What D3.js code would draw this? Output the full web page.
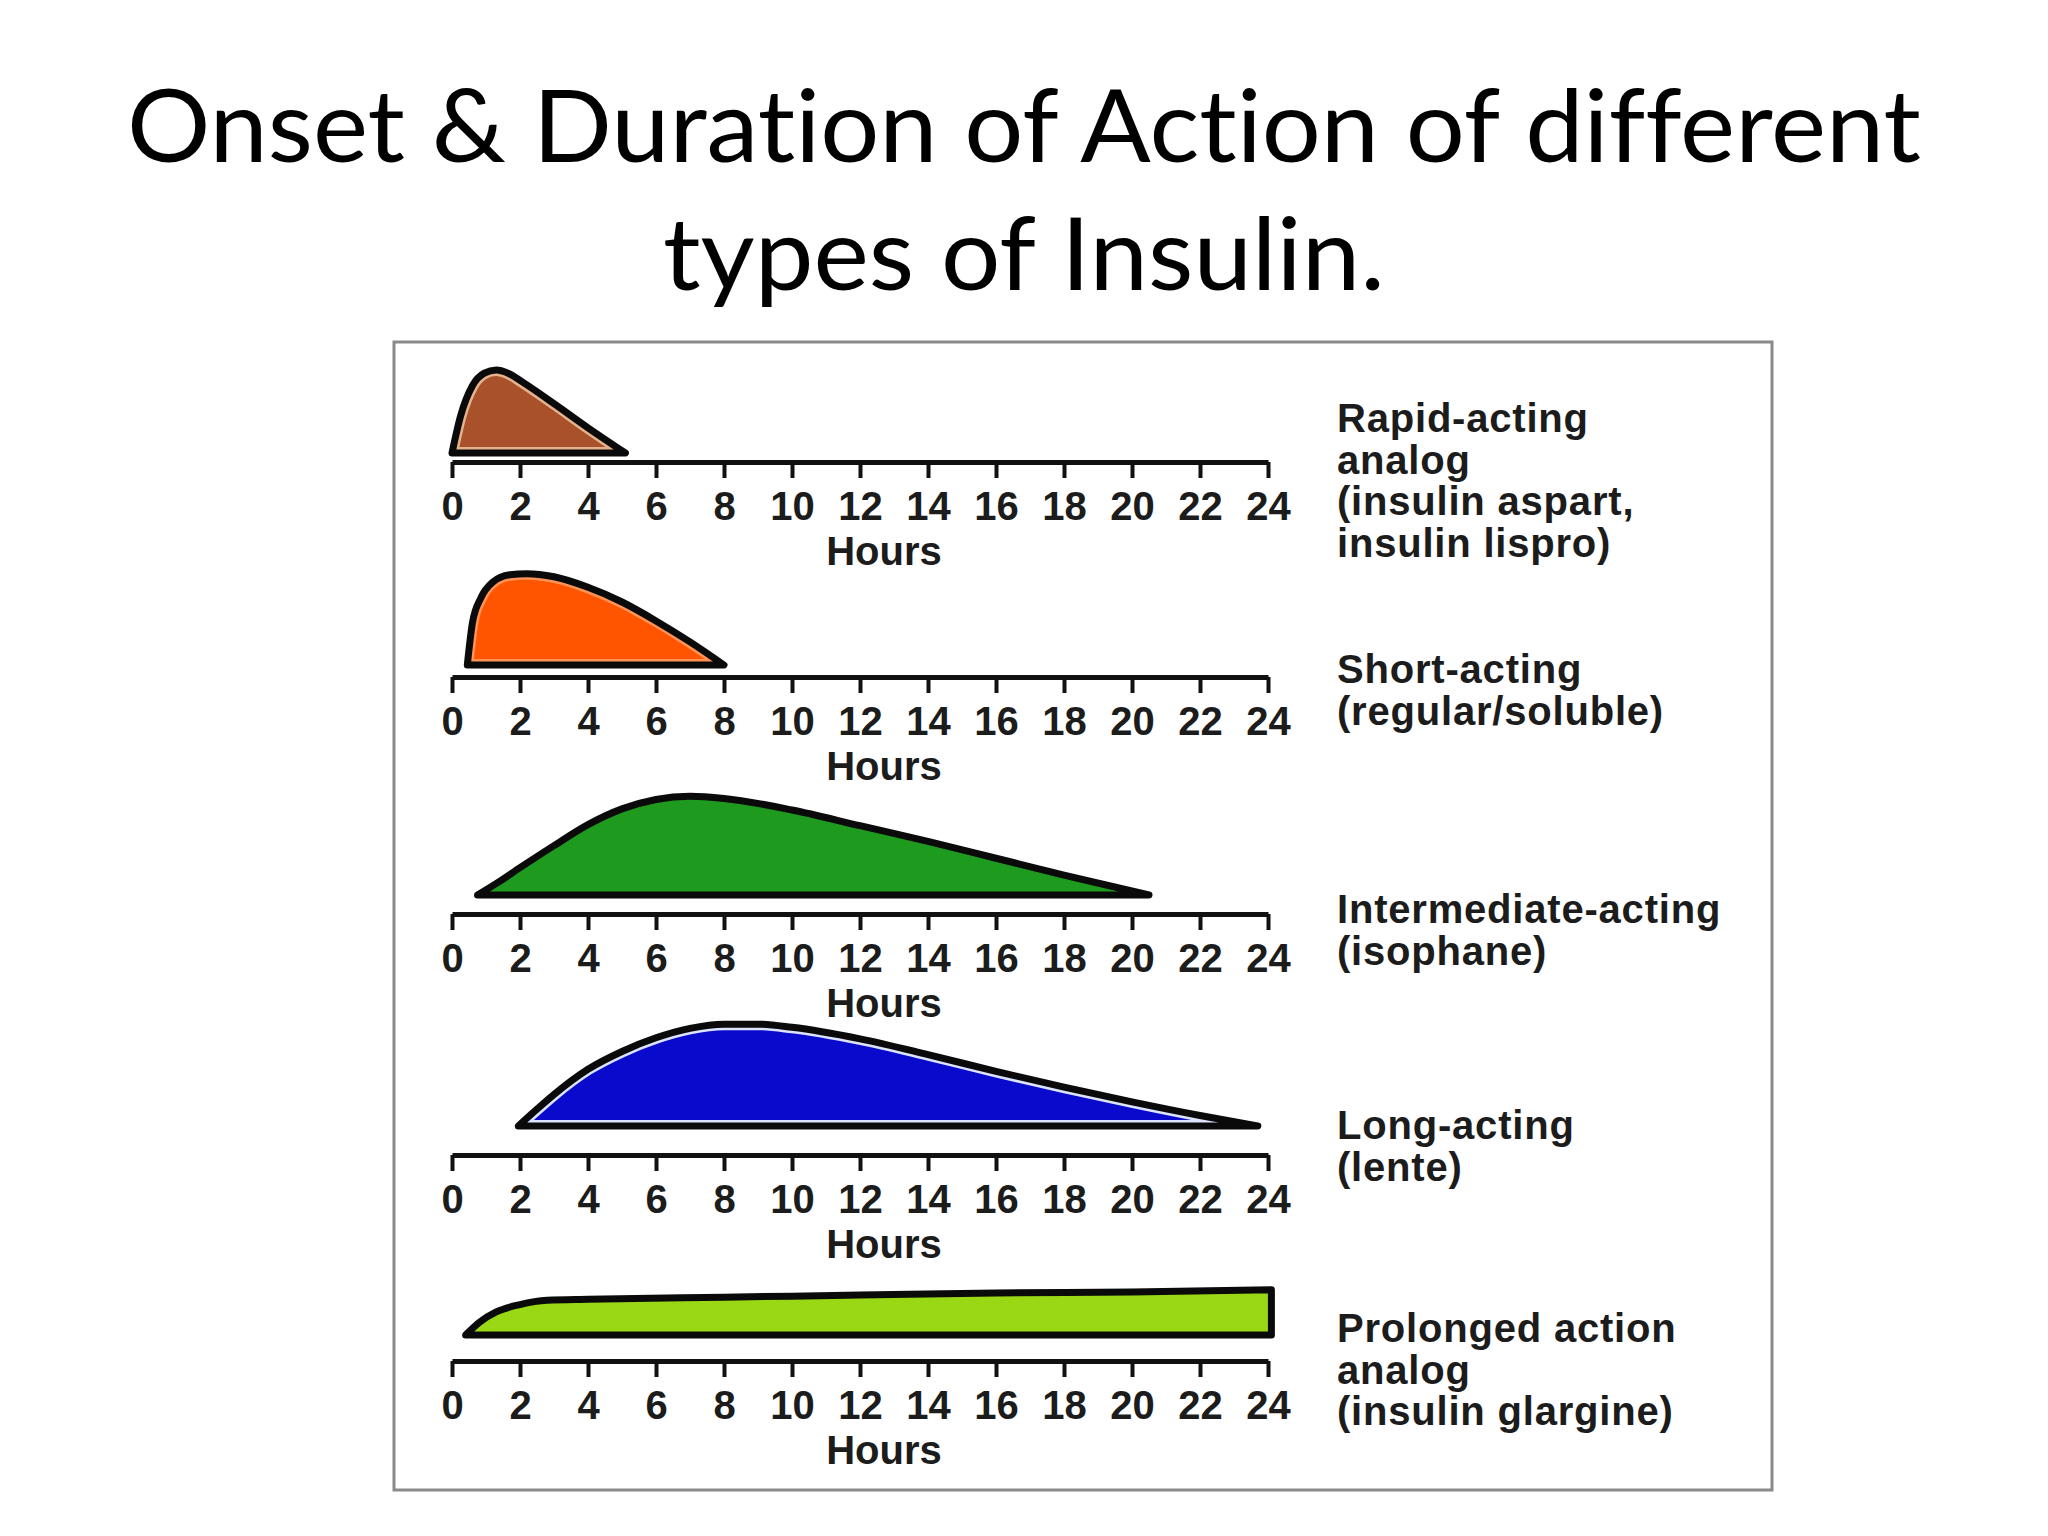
<!DOCTYPE html>
<html>
<head>
<meta charset="utf-8">
<script src="https://cdn.jsdelivr.net/npm/d3@7"></script>
<style>
  body { margin: 0; background: #fff; }
  .lbl { font-family: "Liberation Sans", Arial, sans-serif; font-weight: bold; fill: #1c1c1c; }
</style>
</head>
<body>
<svg id="chart" width="2048" height="1536"></svg>
<script>
// values: [hours, relative action]
const hourTicks = [0, 2, 4, 6, 8, 10, 12, 14, 16, 18, 20, 22, 24];

const rapidActing = [[0, 0], [0.25, 35], [0.6, 64], [0.95, 76], [1.3, 79], [1.65, 76], [2.1, 67], [3, 47], [4, 24], [5.1, 0]];
const shortActing = [[0.45, 0], [0.6, 40], [0.85, 64], [1.2, 79], [1.7, 86], [2.2, 87], [3, 84], [4, 74], [5, 60], [6, 42], [7, 22], [8, 0]];
const intermediateActing = [[0.75, 0], [1.4, 13], [2, 26], [3, 47], [4, 67], [5, 82], [6, 91], [7, 94], [8, 92], [10, 81], [12, 66], [14, 51], [16, 35], [18, 19], [20.5, 0]];
const longActing = [[1.95, 0], [2.5, 16], [3, 30], [4, 54], [5, 71], [6, 84], [7, 93], [8, 97], [9, 97], [10, 94], [12, 83], [14, 68], [16, 52], [18, 37], [20, 23], [22, 10], [23.7, 0]];
const prolongedAction = [[0.4, 0], [0.8, 12], [1.3, 22], [2, 29], [2.8, 33], [4, 34], [8, 36], [12, 38], [16, 40], [20, 41], [24.1, 43]];

const seriesList = [rapidActing, shortActing, intermediateActing, longActing, prolongedAction];

const insulinLabels = [
  ["Rapid-acting", "analog", "(insulin aspart,", "insulin lispro)"],
  ["Short-acting", "(regular/soluble)"],
  ["Intermediate-acting", "(isophane)"],
  ["Long-acting", "(lente)"],
  ["Prolonged action", "analog", "(insulin glargine)"]
];

const titleLines = ["Onset & Duration of Action of different", "types of Insulin."];

// layout of each strip
const panels = [
  { base: 453, axis: 462, label: 432, fill: "#A9512A", ring: "#E4B38E" },
  { base: 665, axis: 677, label: 683, fill: "#FF5500", ring: "#FF9355" },
  { base: 895, axis: 914, label: 923, fill: "#1E9A1E", ring: null },
  { base: 1126, axis: 1155, label: 1139, fill: "#0A0ACC", ring: "#DCE3FF" },
  { base: 1335, axis: 1361, label: 1342, fill: "#9AD816", ring: null }
];

const svg = d3.select("#chart");

// title
svg.selectAll(".title")
  .data(titleLines)
  .enter()
  .append("text")
  .attr("class", "title")
  .attr("x", 1024)
  .attr("y", (d, i) => 162 + i * 128)
  .attr("text-anchor", "middle")
  .attr("textLength", (d, i) => i === 0 ? 1794 : 722)
  .attr("lengthAdjust", "spacingAndGlyphs")
  .style("font-family", "Lato, 'Open Sans', sans-serif")
  .style("font-size", "100px")
  .style("font-variant-ligatures", "none")
  .style("font-feature-settings", "'liga' 0")
  .style("fill", "#000")
  .text(d => d);

// frame
svg.append("rect")
  .attr("x", 394)
  .attr("y", 342)
  .attr("width", 1378)
  .attr("height", 1148)
  .attr("fill", "none")
  .attr("stroke", "#8a8a8a")
  .attr("stroke-width", 3);

const x = d3.scaleLinear().domain([0, 24]).range([452, 1268]);
const h = d3.scaleLinear().domain([0, 100]).range([0, 105]);

panels.forEach((p, i) => {
  const data = seriesList[i];
  const area = d3.area()
    .x(d => x(d[0]))
    .y0(p.base)
    .y1(d => p.base - h(d[1]))
    .curve(d3.curveMonotoneX);

  const g = svg.append("g");

  g.append("clipPath")
    .attr("id", "clip" + i)
    .append("path")
    .attr("d", area(data));

  g.append("path")
    .attr("d", area(data))
    .attr("fill", p.fill);

  if (p.ring) {
    g.append("path")
      .attr("d", area(data))
      .attr("fill", "none")
      .attr("stroke", p.ring)
      .attr("stroke-width", 12)
      .attr("clip-path", `url(#clip${i})`);
  }

  g.append("path")
    .attr("d", area(data))
    .attr("fill", "none")
    .attr("stroke", "#0a0a0a")
    .attr("stroke-width", 7)
    .attr("stroke-linejoin", "round");

  // axis
  const ax = svg.append("g")
    .attr("transform", `translate(0,${p.axis})`)
    .call(d3.axisBottom(x)
      .tickValues(hourTicks)
      .tickSize(16)
      .tickSizeOuter(0)
      .tickPadding(14)
      .tickFormat(d3.format("d")));

  ax.select(".domain").attr("stroke", "#111").attr("stroke-width", 5);
  ax.selectAll(".tick line").attr("stroke", "#111").attr("stroke-width", 4);
  ax.selectAll(".tick text")
    .attr("class", "lbl")
    .style("font-size", "40px");

  svg.append("text")
    .attr("class", "lbl")
    .attr("x", 884)
    .attr("y", p.axis + 103)
    .attr("text-anchor", "middle")
    .style("font-size", "40px")
    .text("Hours");

  // right-hand names
  svg.selectAll(".name" + i)
    .data(insulinLabels[i])
    .enter()
    .append("text")
    .attr("class", "lbl")
    .attr("x", 1337)
    .attr("y", (d, j) => p.label + j * 41.5)
    .style("font-size", "40px")
    .style("letter-spacing", "0.8px")
    .text(d => d);
});
</script>
</body>
</html>
